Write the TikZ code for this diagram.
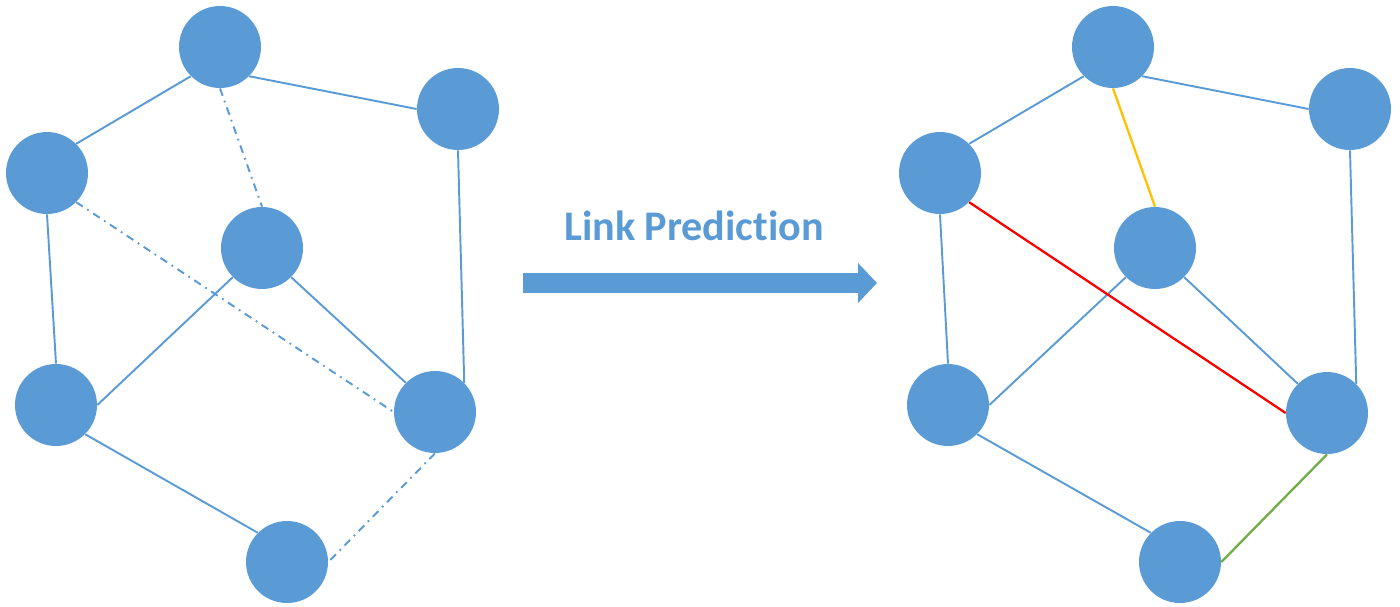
\documentclass[tikz,border=0pt]{standalone}
\usepackage{fontspec}
\setmainfont{Carlito}[Ligatures=NoCommon]
\usetikzlibrary{arrows.meta}
\definecolor{azul}{HTML}{5B9BD5}
\definecolor{laranja}{HTML}{FFC000}
\definecolor{verde}{HTML}{70AD47}

\begin{document}
\begin{tikzpicture}[
        x=0.02cm, y=-0.02cm,
        vertice/.style={
            circle,
            fill=azul,
            minimum size=1.64cm,
            inner sep=0pt
        },
        aresta/.style={draw=azul, line width=1.1pt},
        oculta/.style={aresta, dash pattern=on 4.5pt off 3pt on 1pt off 3pt},
        nova/.style={line width=1.3pt},
        seta/.style={draw=azul, line width=0.4cm, -{Triangle[length=0.38cm, width=0.78cm]}}
    ]
    \useasboundingbox (0,0) rectangle (1400,606);

    % GRAFO ORIGINAL
    \node[vertice] (a) at (220,47) {};
    \node[vertice] (b) at (458,109) {};
    \node[vertice] (c) at (47,173) {};
    \node[vertice] (d) at (262,248) {};
    \node[vertice] (e) at (56,405) {};
    \node[vertice] (f) at (435,412) {};
    \node[vertice] (g) at (287,562) {};

    \draw[aresta] (a.south west) -- (c.north east);
    \draw[aresta] (a.south east) -- (b.west);
    \draw[aresta] (b.south) -- (f.north east);
    \draw[aresta] (c.south) -- (e.north);
    \draw[aresta] (d.south west) -- (e.east);
    \draw[aresta] (d.south east) -- (f.north west);
    \draw[aresta] (e.south east) -- (g.north west);
    \draw[oculta] (a.south) -- (d.north);
    \draw[oculta] (c.south east) -- (f.west);
    \draw[oculta] (f.south) -- (g.east);

    % SETA
    \node[text=azul, font=\bfseries\fontsize{24}{28}\selectfont, anchor=base] (rotulo) at (694,240) {Link Prediction};
    \coordinate (inicio) at (523,283);
    \coordinate (fim) at (877,283);
    \draw[seta] (inicio) -- (fim);

    % GRAFO PREDITO
    \node[vertice] (a2) at (1113,47) {};
    \node[vertice] (b2) at (1350,109) {};
    \node[vertice] (c2) at (940,173) {};
    \node[vertice] (d2) at (1155,248) {};
    \node[vertice] (e2) at (948,405) {};
    \node[vertice] (f2) at (1327,413) {};
    \node[vertice] (g2) at (1180,562) {};

    \draw[aresta] (a2.south west) -- (c2.north east);
    \draw[aresta] (a2.south east) -- (b2.west);
    \draw[aresta] (b2.south) -- (f2.north east);
    \draw[aresta] (c2.south) -- (e2.north);
    \draw[aresta] (d2.south west) -- (e2.east);
    \draw[aresta] (d2.south east) -- (f2.north west);
    \draw[aresta] (e2.south east) -- (g2.north west);
    \draw[nova, laranja] (a2.south) -- (d2.north);
    \draw[nova, red] (c2.south east) -- (f2.west);
    \draw[nova, verde] (f2.south) -- (g2.east);
\end{tikzpicture}
\end{document}
